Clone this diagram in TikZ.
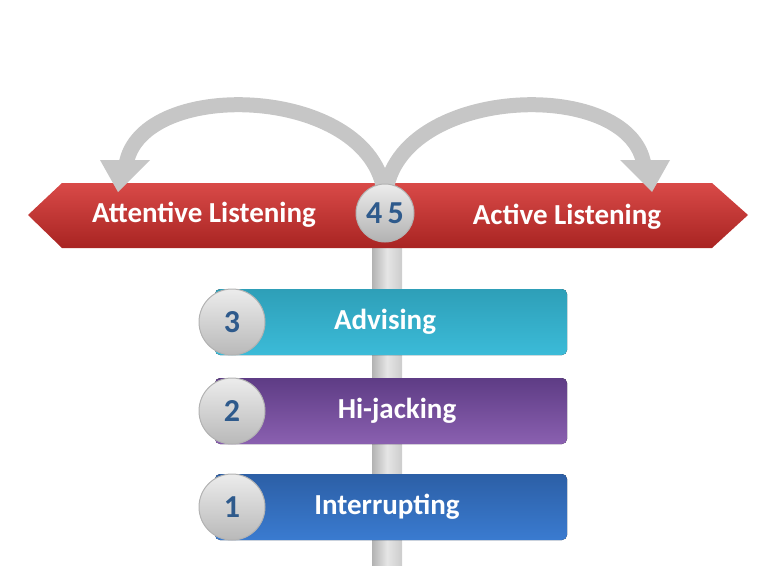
\documentclass[tikz,border=0pt]{standalone}
\usepackage{fontspec}
\setmainfont{Carlito}
\definecolor{numc}{HTML}{2E5A8C}
\definecolor{redA}{HTML}{D94A48}\definecolor{redB}{HTML}{A82422}
\definecolor{tealA}{HTML}{2E9FB8}\definecolor{tealB}{HTML}{3BBBD8}
\definecolor{purA}{HTML}{5E3C85}\definecolor{purB}{HTML}{8A60B0}
\definecolor{bluA}{HTML}{2C5FA6}\definecolor{bluB}{HTML}{3A7BD0}
\begin{document}
\begin{tikzpicture}[x=1pt,y=-1pt,
  lbl/.style={font=\bfseries\fontsize{29}{32}\selectfont,text=white},
  num/.style={font=\bfseries\fontsize{32}{34}\selectfont,text=numc},
  disc/.style={circle,minimum size=66pt,inner sep=0pt,draw=gray!60,line width=1pt,top color=gray!15,bottom color=gray!55},
  bar/.style={rounded corners=5pt,draw=none},
  curl/.style={line width=15pt,draw=gray!45}]
\useasboundingbox (0,0) rectangle (768,576);
% pole
\fill[left color=gray!60,right color=gray!40,middle color=gray!20] (372,220) rectangle (402,565);
% red arrows
\path[top color=redA,bottom color=redB] (385,183) -- (62,183) -- (28,215) -- (62,248) -- (385,248) -- cycle;
\path[top color=redA,bottom color=redB] (385,183) -- (712,183) -- (748,215) -- (712,248) -- (385,248) -- cycle;
\node[lbl] (att) at (204,215) {Attentive Listening};
\node[lbl] (act) at (567,217) {Active Listening};
% curls
\coordinate (top) at (385,200);
\coordinate (ltip) at (118,192);
\coordinate (rtip) at (652,192);
\draw[curl] (top) .. controls (380,85) and (140,75) .. (126,165);
\draw[curl] (top) .. controls (390,85) and (630,75) .. (644,165);
\fill[gray!45] (100,160) -- (150,160) -- (ltip) -- cycle;
\fill[gray!45] (620,160) -- (670,160) -- (rtip) -- cycle;
% center disc
\node[circle,minimum size=58pt,inner sep=0pt,draw=gray!60,line width=1pt,top color=gray!15,bottom color=gray!60,num] (c45) at (385,213) {4\,5};
% bars
\fill[bar,top color=tealA,bottom color=tealB] (215,289) rectangle (567,355);
\fill[bar,top color=purA,bottom color=purB] (215,378) rectangle (567,444);
\fill[bar,top color=bluA,bottom color=bluB] (215,474) rectangle (567,540);
\node[lbl] (adv) at (385,322) {Advising};
\node[lbl] (hij) at (397,411) {Hi-jacking};
\node[lbl] (int) at (387,507) {Interrupting};
\node[disc,num] (n3) at (232,322) {3};
\node[disc,num] (n2) at (232,411) {2};
\node[disc,num] (n1) at (232,507) {1};
\end{tikzpicture}
\end{document}
